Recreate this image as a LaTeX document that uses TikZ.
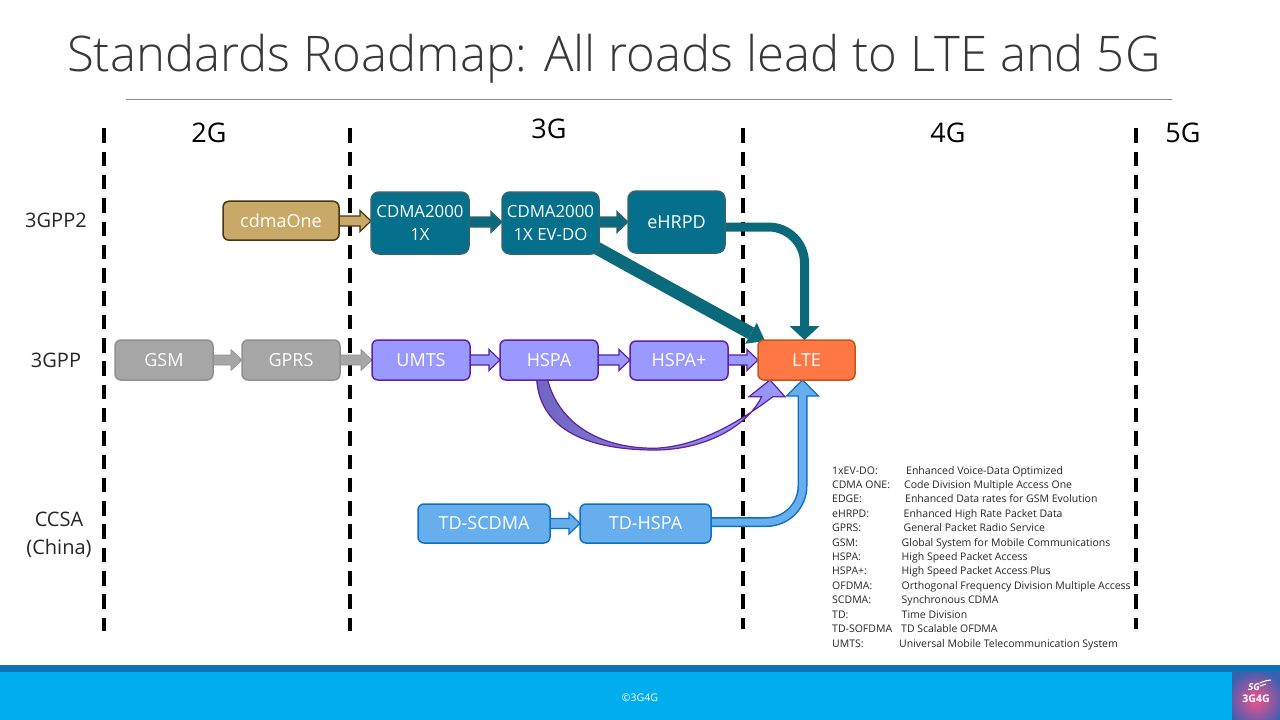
\documentclass[tikz,border=0pt]{standalone}
\usepackage{fontspec}
\setmainfont{Open Sans}
\newfontfamily\ttlfont{Open Sans Light}
\usetikzlibrary{calc,backgrounds}
\definecolor{tan}{HTML}{C9A968}\definecolor{tanb}{HTML}{4A3510}
\definecolor{teal1}{HTML}{04708C}\definecolor{tealb}{HTML}{33646F}\definecolor{tealc}{HTML}{0A6A7C}
\definecolor{grey1}{HTML}{A6A6A6}\definecolor{greyb}{HTML}{909090}
\definecolor{purp}{HTML}{9999FF}\definecolor{purpb}{HTML}{6020A0}\definecolor{purpd}{HTML}{6F66C0}
\definecolor{oran}{HTML}{FF7744}\definecolor{oranb}{HTML}{C0581C}
\definecolor{blu}{HTML}{66AEEE}\definecolor{blub}{HTML}{1070C0}
\definecolor{barc}{HTML}{00AEEF}\definecolor{bard}{HTML}{0F72B8}
\definecolor{ttlc}{HTML}{383838}\definecolor{lab}{HTML}{262626}
\definecolor{logoi}{HTML}{F4508E}\definecolor{logoo}{HTML}{3A60B0}
\tikzset{
  x=1pt,y=-1pt,
  box/.style={draw,rectangle,rounded corners=6pt,line width=1.5pt,inner sep=0pt,outer sep=0pt,text=white,align=center,font=\fontsize{18}{24}\selectfont},
  tanbox/.style={box,fill=tan,draw=tanb},
  tealbox/.style={box,fill=teal1,draw=tealb,rounded corners=8pt,font=\fontsize{16.8}{23.5}\selectfont},
  greybox/.style={box,fill=grey1,draw=greyb},
  purpbox/.style={box,fill=purp,draw=purpb},
  ltebox/.style={box,fill=oran,draw=oranb},
  blubox/.style={box,fill=blu,draw=blub},
  tanarrow/.style={fill=tan,draw=tanb,line width=1.2pt},
  tealarrow/.style={fill=tealc,draw=tealb,line width=1.2pt},
  greyarrow/.style={fill=grey1,draw=greyb,line width=.6pt},
  purparrow/.style={fill=purp,draw=purpb,line width=1.2pt},
  bluarrow/.style={fill=blu,draw=blub,line width=1.2pt},
  era/.style={draw=black,line width=3.2pt,dash pattern=on 14.5pt off 8.8pt},
  rowlab/.style={text=lab,align=center,font=\fontsize{20}{28}\selectfont},
  genlab/.style={text=black,font=\fontsize{27}{30}\selectfont},
  legend/.style={text=lab,anchor=base west,inner sep=0pt,font=\fontsize{10.5}{12}\selectfont},
}
\newcommand{\harrow}[4]{%
  \coordinate (hs) at (#2.east |- 0,#4);
  \coordinate (he) at (#3.west |- 0,#4);
  \draw[#1] ($(hs)+(0,-5)$) -- ($(he)+(-11,-5)$) -- ($(he)+(-11,-10.5)$) -- (he)
    -- ($(he)+(-11,10.5)$) -- ($(he)+(-11,5)$) -- ($(hs)+(0,5)$) -- cycle;}
\begin{document}
\begin{tikzpicture}
\useasboundingbox (0,0) rectangle (1280,720);
% footer
\fill[bard] (0,665) rectangle (1280,672);
\fill[barc] (0,672) rectangle (1280,720);
\fill[logoo] (1232,672) rectangle (1280,720);
\begin{scope}
\clip (1232,672) rectangle (1280,720);
\shade[inner color=logoi,outer color=logoo] (1256,700) circle (30pt);
\end{scope}
\node[text=white,font=\fontsize{9.5}{10}\selectfont\bfseries\itshape,inner sep=0pt] (logoa) at (1254,687) {5G};
\node[text=white,font=\fontsize{10.5}{11}\selectfont\bfseries,inner sep=0pt] (logob) at (1256,698.5) {3G4G};
\draw[white,line width=1pt] (1260,686) to[bend left=10] (1266,684);
\draw[white,line width=1pt] (1260,683) to[bend left=10] (1271,680);
\node[text=white,font=\fontsize{10.5}{11}\selectfont,inner sep=0pt] (copy) at (640,698) {©3G4G};
% title
\node[text=ttlc,anchor=base west,inner sep=0pt,font=\ttlfont\fontsize{49.1}{60}\selectfont] (title) at (67,71) {Standards Roadmap: All roads lead to LTE and 5G};
\coordinate (rl) at (126,99.5);\coordinate (rr) at (1172,99.5);
\draw[black!45,line width=.8pt] (rl) -- (rr);
% generations
\node[genlab] (g2) at (209,133) {2G};
\node[genlab] (g3) at (549,129) {3G};
\node[genlab] (g4) at (948,133) {4G};
\node[genlab] (g5) at (1183,133) {5G};
% rows
\node[rowlab] (r1) at (56,220.5) {3GPP2};
\node[rowlab] (r2) at (56,360) {3GPP};
\node[rowlab] (r3) at (59,535) {CCSA\\(China)};
% nodes
\node[tanbox,minimum width=116pt,minimum height=39pt] (cdmaone) at (281,220.7) {\raisebox{-1pt}{cdmaOne}};
\node[tealbox,minimum width=98pt,minimum height=62pt] (cdma1x) at (420,223) {CDMA2000\\1X};
\node[tealbox,minimum width=97pt,minimum height=62pt] (evdo) at (550.5,223) {CDMA2000\\1X EV-DO};
\node[tealbox,minimum width=97pt,minimum height=62pt,font=\fontsize{18}{24}\selectfont] (ehrpd) at (676.5,222) {\raisebox{-1pt}{eHRPD}};
\node[greybox,minimum width=98pt,minimum height=40pt] (gsm) at (164,360) {GSM};
\node[greybox,minimum width=98pt,minimum height=40pt] (gprs) at (291,360) {GPRS};
\node[purpbox,minimum width=98pt,minimum height=40pt] (umts) at (421,360) {UMTS};
\node[purpbox,minimum width=98pt,minimum height=40pt] (hspa) at (549,360) {HSPA};
\node[purpbox,minimum width=98pt,minimum height=39pt] (hspap) at (679,360.5) {HSPA+};
\node[ltebox,minimum width=97pt,minimum height=40pt] (lte) at (806.5,360) {LTE};
\node[blubox,minimum width=132pt,minimum height=39pt] (tdscdma) at (484,523.5) {TD-SCDMA};
\node[blubox,minimum width=131pt,minimum height=39pt] (tdhspa) at (645.5,523.5) {TD-HSPA};
% legend
\foreach \i/\a/\x/\b in {0/1xEV-DO:/906/Enhanced Voice-Data Optimized,
  1/CDMA ONE:/904/Code Division Multiple Access One,
  2/EDGE:/905/Enhanced Data rates for GSM Evolution,
  3/eHRPD:/903.5/Enhanced High Rate Packet Data,
  4/GPRS:/903.5/General Packet Radio Service,
  5/GSM:/901.5/Global System for Mobile Communications,
  6/HSPA:/901.5/High Speed Packet Access,
  7/HSPA+:/901.5/High Speed Packet Access Plus,
  8/OFDMA:/901.5/Orthogonal Frequency Division Multiple Access,
  9/SCDMA:/901.5/Synchronous CDMA,
  10/TD:/901.5/Time Division,
  11/TD-SOFDMA/901/TD Scalable OFDMA,
  12/UMTS:/899/Universal Mobile Telecommunication System}{
  \pgfmathsetmacro{\yy}{474+14.42*\i}
  \node[legend] (la\i) at (832,\yy) {\a};
  \node[legend] (lb\i) at (\x,\yy) {\b};
}
\begin{scope}[on background layer]
\fill[white] (0,0) rectangle (1280,720);
% era lines
\coordinate (e1a) at (104,128.3);\coordinate (e1b) at (104,631);
\coordinate (e2a) at (350,128.3);\coordinate (e2b) at (350,631);
\coordinate (e3a) at (743,128.3);\coordinate (e3b) at (743,629);
\coordinate (e4a) at (1136,128.3);\coordinate (e4b) at (1136,629);
\draw[era] (e1a) -- (e1b);
\draw[era] (e2a) -- (e2b);
\draw[era] (e3a) -- (e3b);
\draw[era] (e4a) -- (e4b);
% straight block arrows
\harrow{tanarrow}{cdmaone}{cdma1x}{221}
\harrow{tealarrow}{cdma1x}{evdo}{222}
\harrow{tealarrow}{evdo}{ehrpd}{222}
\harrow{greyarrow}{gsm}{gprs}{360}
\harrow{greyarrow}{gprs}{umts}{360}
\harrow{purparrow}{umts}{hspa}{360}
\harrow{purparrow}{hspa}{hspap}{360}
\harrow{purparrow}{hspap}{lte}{360}
\harrow{bluarrow}{tdscdma}{tdhspa}{523.5}
% diagonal
\coordinate (dga) at ($(evdo.south east)+(-6,-8)$);
\coordinate (dgb) at ($(lte.north west)+(7,1)$);
\coordinate (dgu) at ($(dgb)!16pt!(dga)$);
\draw[tealc,line width=13pt] (dga) -- (dgu);
\fill[tealc] (dgb) -- ($(dgu)!12pt!90:(dgb)$) -- ($(dgu)!12pt!-90:(dgb)$) -- cycle;
% eHRPD to LTE
\coordinate (ea) at (ehrpd.east |- 0,227);
\coordinate (etip) at ($(lte.north)+(-2,0)$);
\coordinate (eb) at ($(etip)+(0,-14)$);
\draw[tealc,line width=9pt,rounded corners=36pt] (ea) -| (eb);
\fill[tealc] (etip) -- ($(eb)+(-15,0)$) -- ($(eb)+(15,0)$) -- cycle;
% TD-HSPA to LTE
\coordinate (ba) at (tdhspa.east |- 0,522);
\coordinate (btip) at ($(lte.south)+(-4,0)$);
\coordinate (bb) at ($(btip)+(0,16)$);
\draw[blub,line width=10pt,rounded corners=36pt] (ba) -| (bb);
\draw[blu,line width=7pt,rounded corners=36pt] (ba) -| (bb);
\draw[bluarrow] (btip) -- ($(bb)+(-16,0)$) -- ($(bb)+(-4,0)$) -- ($(bb)+(4,0)$) -- ($(bb)+(16,0)$) -- cycle;
\fill[blu] ($(bb)+(-3.5,-1)$) rectangle ($(bb)+(3.5,1.5)$);
% HSPA to LTE crescent
\coordinate (ca) at ($(hspa.south)+(-12.3,0)$);
\coordinate (cb) at ($(hspa.south)+(-1.3,0)$);
\coordinate (cc) at ($(lte.south west)+(3.7,16.7)$);
\coordinate (cd) at ($(lte.south west)+(15,16.7)$);
\coordinate (cl) at ($(lte.south west)+(-9,16.7)$);
\coordinate (cr) at ($(lte.south west)+(27,16.7)$);
\coordinate (ct) at ($(lte.south west)+(12,0)$);
\shadedraw[left color=purpd,middle color=purp,right color=purp,draw=purpb,line width=1.2pt,line join=miter]
  (ca) .. controls (540,425) and (580,450) .. (655,450) .. controls (700,450) and (745,430) .. (cc)
  -- (cl) -- (ct) -- (cr) -- (cd) .. controls (748,415) and (705,446) .. (655,448.3)
  .. controls (595,448.3) and (558,420) .. (cb) -- cycle;
\end{scope}
\end{tikzpicture}
\end{document}
